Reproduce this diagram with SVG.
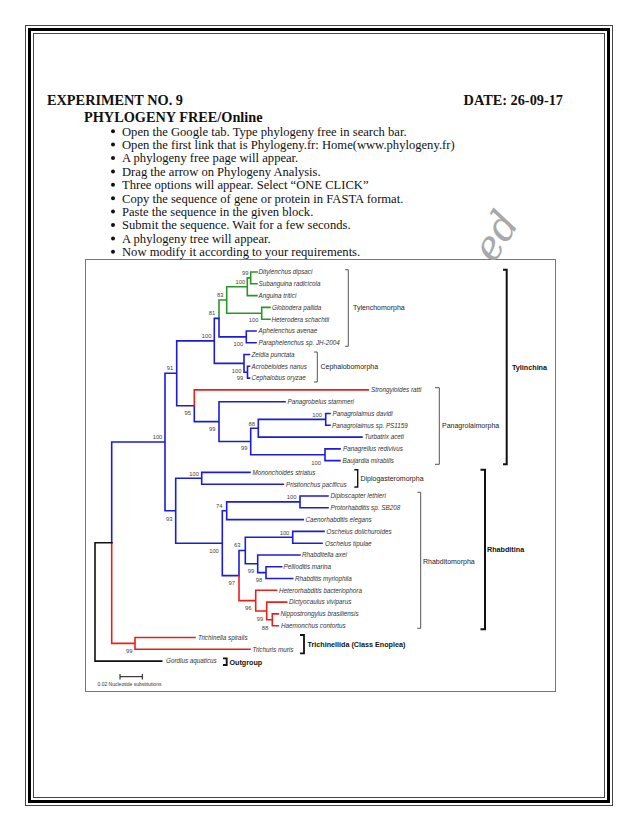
<svg xmlns="http://www.w3.org/2000/svg" width="638" height="826" viewBox="0 0 638 826">
<style>
.hd{font-family:"Liberation Serif","Times New Roman",serif;font-weight:bold;font-size:14.3px;fill:#111}
.it{font-family:"Liberation Serif","Times New Roman",serif;font-size:12.6px;fill:#111}
.bl{fill:none;stroke:#1c1cd6;stroke-width:1.6;stroke-linecap:square}
.gr{fill:none;stroke:#2a962a;stroke-width:1.6;stroke-linecap:square}
.rd{fill:none;stroke:#e8201c;stroke-width:1.6;stroke-linecap:square}
.bk{fill:none;stroke:#111;stroke-width:1.6;stroke-linecap:square}
.lf{font-family:"Liberation Sans",Arial,sans-serif;font-style:italic;font-size:6.3px;fill:#333}
.bs{font-family:"Liberation Sans",Arial,sans-serif;font-size:5.8px;fill:#444;text-anchor:middle}
.cl{font-family:"Liberation Sans",Arial,sans-serif;font-size:7px;fill:#222}
.cb{font-family:"Liberation Sans",Arial,sans-serif;font-size:7.2px;font-weight:bold;fill:#111}
.bt{fill:none;stroke:#555;stroke-width:1}
.bT{fill:none;stroke:#111;stroke-width:2}
</style>
<rect width="638" height="826" fill="#fff"/>
<g id="frame" fill="none">
<rect x="25.5" y="25.5" width="587" height="780" stroke="#444" stroke-width="1"/>
<rect x="29.5" y="29.5" width="579" height="772" stroke="#000" stroke-width="3"/>
<rect x="33.5" y="33.5" width="571" height="764" stroke="#444" stroke-width="1"/>
</g>
<g id="header">
<text class="hd" x="47" y="105">EXPERIMENT NO. 9</text>
<text class="hd" x="563" y="105" text-anchor="end">DATE: 26-09-17</text>
<text class="hd" x="84" y="121.5">PHYLOGENY FREE/Online</text>
</g>
<g id="steps">
<g fill="#111"><circle cx="113" cy="131.2" r="2"/><circle cx="113" cy="144.6" r="2"/><circle cx="113" cy="158" r="2"/><circle cx="113" cy="171.4" r="2"/><circle cx="113" cy="184.8" r="2"/><circle cx="113" cy="198.2" r="2"/><circle cx="113" cy="211.6" r="2"/><circle cx="113" cy="225" r="2"/><circle cx="113" cy="238.4" r="2"/><circle cx="113" cy="251.8" r="2"/></g>
<text class="it" x="122" y="135.6">Open the Google tab. Type phylogeny free in search bar.</text>
<text class="it" x="122" y="149">Open the first link that is Phylogeny.fr: Home(www.phylogeny.fr)</text>
<text class="it" x="122" y="162.4">A phylogeny free page will appear.</text>
<text class="it" x="122" y="175.8">Drag the arrow on Phylogeny Analysis.</text>
<text class="it" x="122" y="189.2">Three options will appear. Select “ONE CLICK”</text>
<text class="it" x="122" y="202.6">Copy the sequence of gene or protein in FASTA format.</text>
<text class="it" x="122" y="216">Paste the sequence in the given block.</text>
<text class="it" x="122" y="229.4">Submit the sequence. Wait for a few seconds.</text>
<text class="it" x="122" y="242.8">A phylogeny tree will appear.</text>
<text class="it" x="122" y="256.2">Now modify it according to your requirements.</text>
</g>
<rect id="tree-box" x="85.5" y="259.5" width="470" height="432" fill="none" stroke="#777" stroke-width="1"/>
<text id="watermark" x="0" y="0" transform="translate(494,264) rotate(-58)" font-family="'DejaVu Serif',serif" font-style="italic" font-size="40" fill="#a8a8a8">ed</text>
<g id="branches">
<path class="gr" d="M219,318.4 V300 H226.7 M226.7,286.75 V313.3 M226.7,286.75 H247.3 M226.7,313.3 H261.7 M247.3,277.9 V295.6 H257 M247.3,277.9 H250.7 M250.7,272 V283.8 M250.7,272 H257 M250.7,283.8 H257 M261.7,307.4 V319.2 M261.7,307.4 H270 M261.7,319.2 H270"/>
<path class="bl" d="M111.7,542.7 V442 H165 M165,373.3 V510.75 M165,373.3 H176.7 M165,510.75 H175.7 M176.7,340.9 V405.75 M176.7,340.9 H214.3 M176.7,405.75 H194.3 M214.3,318.4 V363.35 M214.3,318.4 H219 M214.3,363.35 H244 M219,318.4 V336.85 H246.3 M246.3,331 V342.7 M246.3,331 H256 M246.3,342.7 H256 M244,354.5 V372.2 H247.5 M244,354.5 H249.5 M247.5,366.3 V378.1 M247.5,366.3 H249.5 M247.5,378.1 H249.5 M194.3,405.75 V421.6 H219 M219,401.7 V441.5 M219,401.7 H285 M219,441.5 H250.7 M250.7,428.25 V454.75 M250.7,428.25 H258.3 M250.7,454.75 H325 M258.3,419.4 V437.1 M258.3,419.4 H325.7 M258.3,437.1 H362 M325.7,413.5 V425.3 M325.7,413.5 H330 M325.7,425.3 H330 M325,448.9 V460.6 M325,448.9 H340 M325,460.6 H340 M175.7,478.3 V543.2 M175.7,478.3 H201.7 M175.7,543.2 H222.3 M201.7,472.4 V484.2 M201.7,472.4 H250 M201.7,484.2 H283.3 M222.3,510.75 V575.6 M222.3,510.75 H226.7 M222.3,575.6 H239 M226.7,501.9 V519.6 M226.7,501.9 H300 M226.7,519.6 H303.3 M300,496 V507.8 M300,496 H328 M300,507.8 H328 M239,575.6 V550.55 H245.3 M245.3,537.3 V563.8 M245.3,537.3 H292.7 M245.3,563.8 H257.7 M292.7,531.4 V543.2 M292.7,531.4 H324 M292.7,543.2 H322 M257.7,555 V572.65 M257.7,555 H300 M257.7,572.65 H266 M266,566.8 V578.5 M266,566.8 H281.7 M266,578.5 H292.7"/>
<path class="rd" d="M194.3,405.75 V389.9 H368.3 M239,575.6 V600.6 H255.7 M255.7,590.3 V610.95 M255.7,590.3 H276.7 M255.7,610.95 H266.7 M266.7,602.1 V619.8 M266.7,602.1 H286.7 M266.7,619.8 H272.3 M272.3,613.9 V625.7 M272.3,613.9 H278.3 M272.3,625.7 H278.3 M111.7,542.7 V643.4 H135 M135,637.5 V649.3 M135,637.5 H195 M135,649.3 H250"/>
<path class="bk" d="M111.7,542.7 H95 V661.1 H161.7"/>
</g>
<g id="bootstrap">
<text class="bs" x="245.3" y="275.2">99</text>
<text class="bs" x="240.3" y="284.2">100</text>
<text class="bs" x="220.3" y="296.9">83</text>
<text class="bs" x="212" y="315.2">81</text>
<text class="bs" x="253.7" y="322.2">100</text>
<text class="bs" x="206.7" y="337.5">100</text>
<text class="bs" x="238.3" y="346.2">100</text>
<text class="bs" x="170" y="370.2">91</text>
<text class="bs" x="236.7" y="372.9">100</text>
<text class="bs" x="240" y="380.2">99</text>
<text class="bs" x="187.7" y="414.9">95</text>
<text class="bs" x="212.3" y="430.5">99</text>
<text class="bs" x="251.7" y="425.5">88</text>
<text class="bs" x="244.3" y="449.9">99</text>
<text class="bs" x="157.5" y="438.9">100</text>
<text class="bs" x="317.2" y="416.5">100</text>
<text class="bs" x="316.2" y="464.5">100</text>
<text class="bs" x="194.2" y="475.5">100</text>
<text class="bs" x="169.3" y="520.5">93</text>
<text class="bs" x="219.3" y="507.9">74</text>
<text class="bs" x="291.7" y="498.9">100</text>
<text class="bs" x="284.5" y="534.5">100</text>
<text class="bs" x="237.3" y="547.2">63</text>
<text class="bs" x="214" y="552.5">100</text>
<text class="bs" x="251" y="573.2">99</text>
<text class="bs" x="259" y="581.5">98</text>
<text class="bs" x="231.7" y="584.5">97</text>
<text class="bs" x="248.3" y="609.9">96</text>
<text class="bs" x="260" y="620.5">99</text>
<text class="bs" x="265" y="629.9">88</text>
<text class="bs" x="129.3" y="652.9">99</text>
</g>
<g id="leaf-ditylenchus"><text class="lf" x="258.5" y="274.3">Ditylenchus dipsaci</text></g>
<g id="leaf-subanguina"><text class="lf" x="258.5" y="286.1">Subanguina radicicola</text></g>
<g id="leaf-anguina"><text class="lf" x="258.5" y="297.9">Anguina tritici</text></g>
<g id="leaf-globodera"><text class="lf" x="272" y="309.7">Globodera pallida</text></g>
<g id="leaf-heterodera"><text class="lf" x="271.5" y="321.5">Heterodera schachtii</text></g>
<g id="leaf-aphelenchus"><text class="lf" x="258.5" y="333.3">Aphelenchus avenae</text></g>
<g id="leaf-paraphelenchus"><text class="lf" x="258.5" y="345">Paraphelenchus sp. JH-2004</text></g>
<g id="leaf-zeldia"><text class="lf" x="251.5" y="356.8">Zeldia punctata</text></g>
<g id="leaf-acrobeloides"><text class="lf" x="251.5" y="368.6">Acrobeloides nanus</text></g>
<g id="leaf-cephalobus"><text class="lf" x="251.5" y="380.4">Cephalobus oryzae</text></g>
<g id="leaf-strongyloides"><text class="lf" x="371" y="392.2">Strongyloides ratti</text></g>
<g id="leaf-panagrobelus"><text class="lf" x="287.5" y="404">Panagrobelus stammeri</text></g>
<g id="leaf-panagrolaimus-davidi"><text class="lf" x="332.5" y="415.8">Panagrolaimus davidi</text></g>
<g id="leaf-panagrolaimus-sp"><text class="lf" x="332" y="427.6">Panagrolaimus sp. PS1159</text></g>
<g id="leaf-turbatrix"><text class="lf" x="364.5" y="439.4">Turbatrix aceti</text></g>
<g id="leaf-panagrellus"><text class="lf" x="343" y="451.2">Panagrellus redivivus</text></g>
<g id="leaf-baujardia"><text class="lf" x="342.5" y="462.9">Baujardia mirabilis</text></g>
<g id="leaf-mononchoides"><text class="lf" x="252.5" y="474.7">Mononchoides striatus</text></g>
<g id="leaf-pristionchus"><text class="lf" x="286" y="486.5">Pristionchus pacificus</text></g>
<g id="leaf-diploscapter"><text class="lf" x="330.5" y="498.3">Diploscapter lethieri</text></g>
<g id="leaf-protorhabditis"><text class="lf" x="330.5" y="510.1">Protorhabditis sp. SB208</text></g>
<g id="leaf-caenorhabditis"><text class="lf" x="305.5" y="521.9">Caenorhabditis elegans</text></g>
<g id="leaf-oscheius-dolichuroides"><text class="lf" x="326.5" y="533.7">Oscheius dolichuroides</text></g>
<g id="leaf-oscheius-tipulae"><text class="lf" x="325" y="545.5">Oscheius tipulae</text></g>
<g id="leaf-rhabditella"><text class="lf" x="302" y="557.3">Rhabditella axei</text></g>
<g id="leaf-pellioditis"><text class="lf" x="283.5" y="569.1">Pellioditis marina</text></g>
<g id="leaf-rhabditis"><text class="lf" x="295" y="580.8">Rhabditis myriophila</text></g>
<g id="leaf-heterorhabditis"><text class="lf" x="279" y="592.6">Heterorhabditis bacteriophora</text></g>
<g id="leaf-dictyocaulus"><text class="lf" x="289" y="604.4">Dictyocaulus viviparus</text></g>
<g id="leaf-nippostrongylus"><text class="lf" x="280.5" y="616.2">Nippostrongylus brasiliensis</text></g>
<g id="leaf-haemonchus"><text class="lf" x="281" y="628">Haemonchus contortus</text></g>
<g id="leaf-trichinella"><text class="lf" x="198" y="639.8">Trichinella spiralis</text></g>
<g id="leaf-trichuris"><text class="lf" x="252.5" y="651.6">Trichuris muris</text></g>
<g id="leaf-gordius"><text class="lf" x="166" y="663.4">Gordius aquaticus</text></g>
<g id="clade-tylenchomorpha"><path class="bt" d="M345,269.7 H348.3 V346.3 H345"/><text class="cl" x="353" y="309.8">Tylenchomorpha</text></g>
<g id="clade-cephalobomorpha"><path class="bt" d="M314,352 H317.3 V382 H314"/><text class="cl" x="320.5" y="368.8">Cephalobomorpha</text></g>
<g id="clade-panagrolaimorpha"><path class="bt" d="M435,387.7 H439.3 V464.3 H435"/><text class="cl" x="442" y="428">Panagrolaimorpha</text></g>
<g id="clade-diplogasteromorpha"><path fill="none" stroke="#111" stroke-width="1.4" d="M354.3,469.7 H357.7 V487 H354.3"/><text class="cl" x="360.5" y="481" font-size="7.5">Diplogasteromorpha</text></g>
<g id="clade-rhabditomorpha"><path class="bt" d="M417.3,492.3 H420.7 V628.3 H417.3"/><text class="cl" x="423" y="563.5">Rhabditomorpha</text></g>
<g id="clade-tylinchina"><path class="bT" d="M503,269.7 H506.7 V464.3 H503"/><text class="cb" x="512" y="369.5">Tylinchina</text></g>
<g id="clade-rhabditina"><path class="bT" d="M480.5,469.7 H485 V629.3 H480.5"/><text class="cb" x="487" y="551.5">Rhabditina</text></g>
<g id="clade-trichinellida"><path fill="none" stroke="#111" stroke-width="1.8" d="M300,635 H304 V653.3 H300"/><text class="cb" x="307.5" y="646.5">Trichinellida (Class Enoplea)</text></g>
<g id="clade-outgroup"><path fill="none" stroke="#111" stroke-width="1.8" d="M223,658.3 H226.7 V665 H223"/><text class="cb" x="229.5" y="664.5" font-size="7.5">Outgroup</text></g>
<g id="scale-bar"><path fill="none" stroke="#111" stroke-width="1" d="M120,676.7 H142.3 M120,674 V679.5 M142.3,674 V679.5"/><text x="97.5" y="686" font-family="'Liberation Sans',Arial,sans-serif" font-size="5" fill="#333">0.02 Nucleotide substitutions</text></g>
</svg>
